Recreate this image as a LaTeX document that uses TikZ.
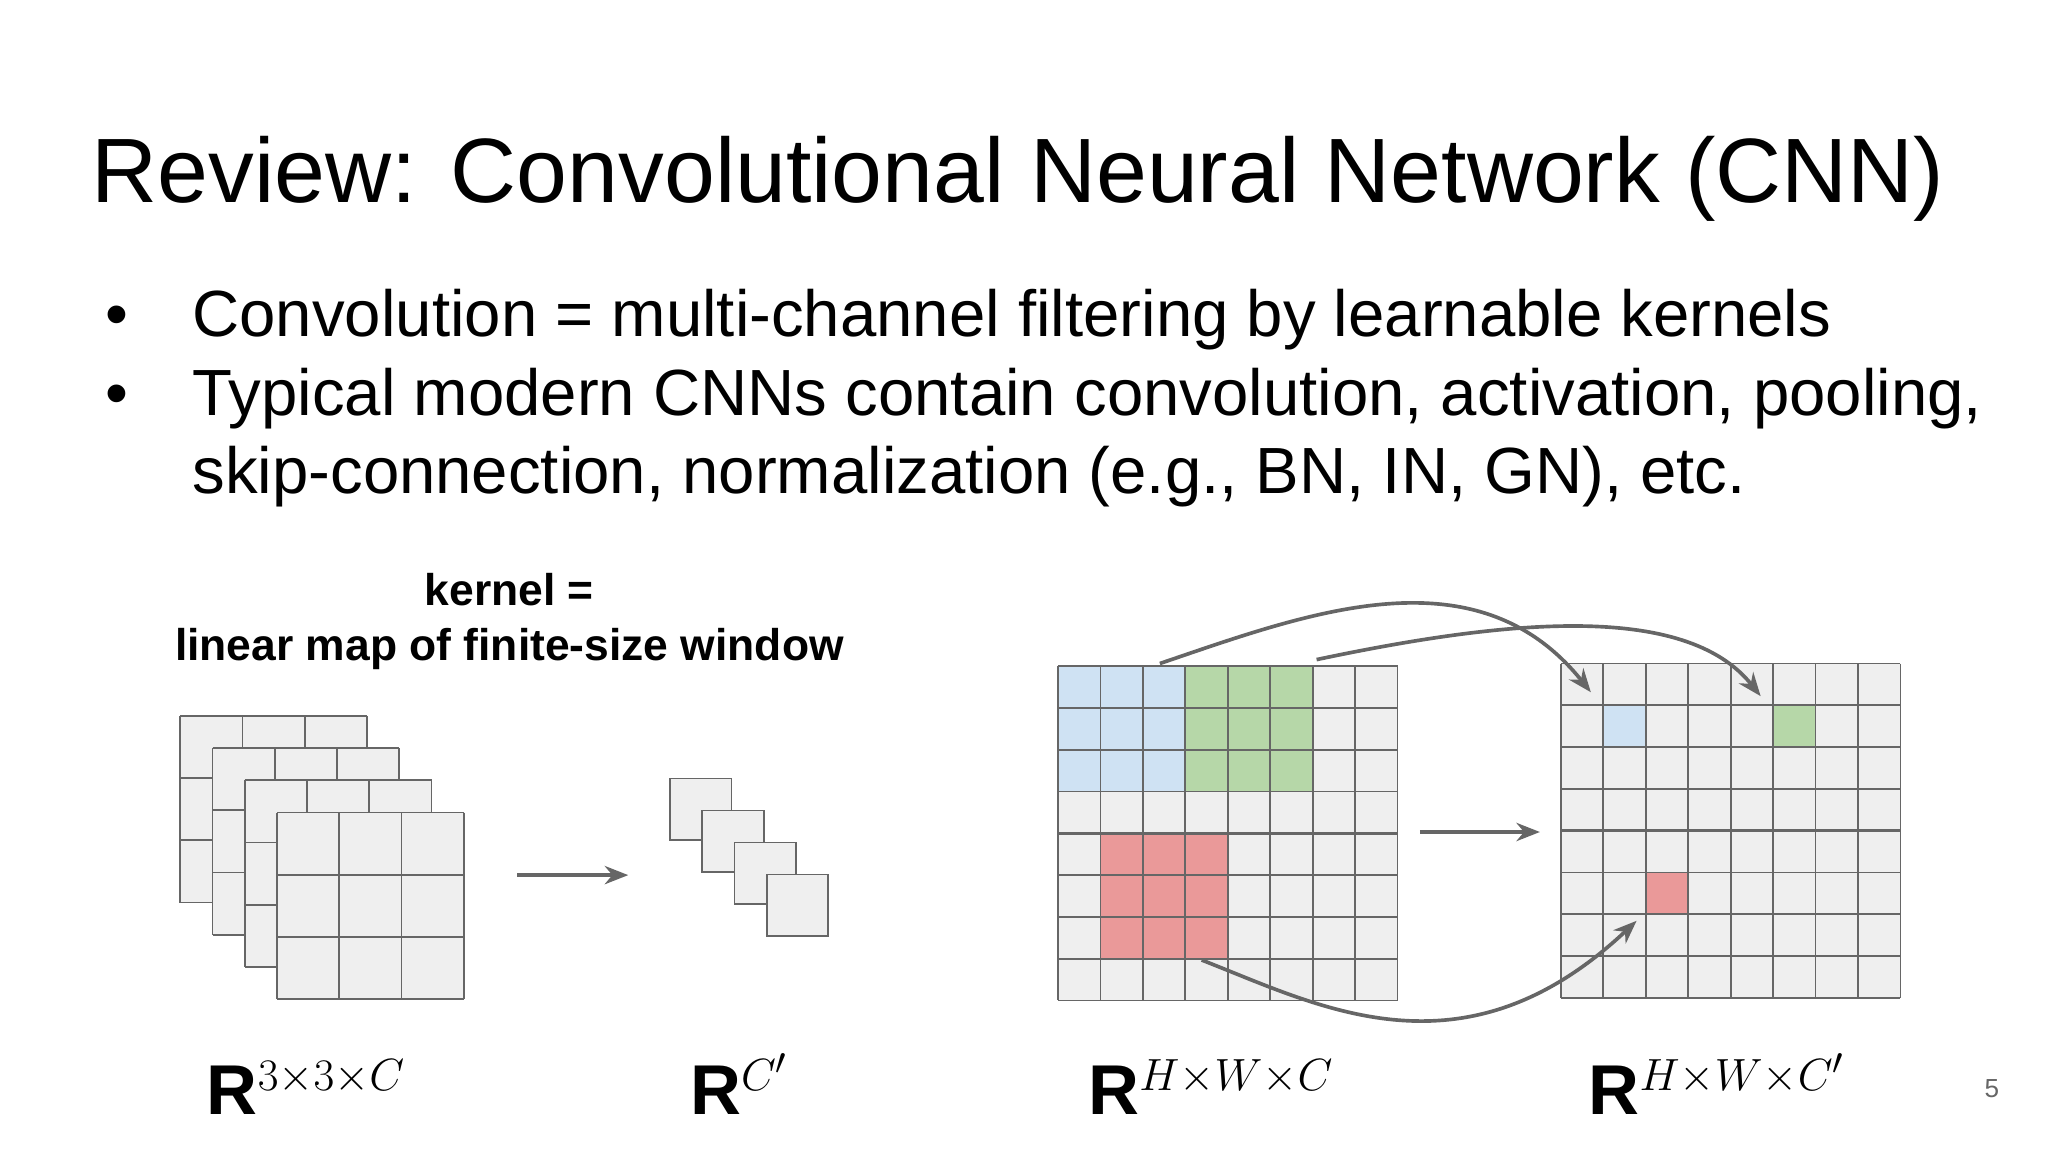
\documentclass[tikz,border=0pt]{standalone}
\usepackage{fontspec}
\setmainfont{Liberation Sans}
\usetikzlibrary{arrows.meta}
\definecolor{cg}{HTML}{EFEFEF}
\definecolor{cl}{HTML}{666666}
\definecolor{cb}{HTML}{CFE2F3}
\definecolor{cgr}{HTML}{B6D7A8}
\definecolor{cr}{HTML}{EA9999}
\begin{document}
\begin{tikzpicture}[x=0.5pt,y=-0.5pt,
  gl/.style={draw=cl,line width=0.7pt},
  arr/.style={draw=cl,line width=1.4pt,-{Stealth[length=9pt,width=7pt]}},
  lab/.style={font=\fontsize{27}{30}\selectfont,anchor=base west,inner sep=0}]
\useasboundingbox (0,0) rectangle (1568,882);
\node[anchor=base west,inner sep=0,font=\fontsize{35}{40}\selectfont] (title) at (70,155) {Review: Convolutional Neural Network (CNN)};
\node[anchor=base west,inner sep=0,font=\fontsize{25}{30}\selectfont] (b1d) at (80,258) {\textbullet};
\node[anchor=base west,inner sep=0,font=\fontsize{25}{30}\selectfont] (b1) at (147,258) {Convolution = multi-channel filtering by learnable kernels};
\node[anchor=base west,inner sep=0,font=\fontsize{25}{30}\selectfont] (b2d) at (80,318) {\textbullet};
\node[anchor=base west,inner sep=0,font=\fontsize{25}{30}\selectfont] (b2) at (147,318) {Typical modern CNNs contain convolution, activation, pooling,};
\node[anchor=base west,inner sep=0,font=\fontsize{25}{30}\selectfont] (b3) at (147,378) {skip-connection, normalization (e.g., BN, IN, GN), etc.};
\node[align=center,inner sep=0,font=\bfseries\fontsize{17}{21}\selectfont] (kt) at (390,476) {kernel =\\linear map of finite-size window};
% kernel stack
\foreach \i in {0,1,2,3}{
  \pgfmathsetmacro\ox{138+24.7*\i}\pgfmathsetmacro\oy{548+24.7*\i}
  \fill[cg] (\ox,\oy) rectangle ++(143,143);
  \foreach \k in {0,1,2,3}{
    \draw[gl] (\ox+47.67*\k,\oy) -- ++(0,143);
    \draw[gl] (\ox,\oy+47.67*\k) -- ++(143,0);}
}
\coordinate (a1s) at (396,670); \coordinate (a1e) at (481,670);
\draw[arr] (a1s) -- (a1e);
\foreach \i in {0,1,2,3}{
  \draw[gl,fill=cg] (513+24.7*\i,596+24.5*\i) rectangle ++(47,47);}
% big grids
\newcommand\biggrid[2]{%
  \fill[cg] (#1,#2) rectangle ++(260,256);
}
\biggrid{810}{510}
\fill[cb] (810,510) rectangle ++(97.5,96);
\fill[cgr] (907.5,510) rectangle ++(97.5,96);
\fill[cr] (842.5,638) rectangle ++(97.5,96);
\foreach \k in {0,...,8}{
  \draw[gl] (810+32.5*\k,510) -- ++(0,256);
  \draw[gl] (810,510+32*\k) -- ++(260,0);}
\draw[cl,line width=1.3pt] (810,638) -- ++(260,0);
\biggrid{1195}{508}
\fill[cb] (1227.5,540) rectangle ++(32.5,32);
\fill[cgr] (1357.5,540) rectangle ++(32.5,32);
\fill[cr] (1260,668) rectangle ++(32.5,32);
\foreach \k in {0,...,8}{
  \draw[gl] (1195+32.5*\k,508) -- ++(0,256);
  \draw[gl] (1195,508+32*\k) -- ++(260,0);}
\draw[cl,line width=1.3pt] (1195,636) -- ++(260,0);
\coordinate (a2s) at (1087,637); \coordinate (a2e) at (1179,637);
\draw[arr] (a2s) -- (a2e);
\coordinate (c1s) at (888,508); \coordinate (c1e) at (1218,530);
\coordinate (c2s) at (1008,505); \coordinate (c2e) at (1348,533);
\coordinate (c3s) at (920,735); \coordinate (c3e) at (1253,705);
\draw[arr] (c1s) .. controls (1000,470) and (1130,420) .. (c1e);
\draw[arr] (c2s) .. controls (1150,475) and (1290,460) .. (c2e);
\draw[arr] (c3s) .. controls (1010,770) and (1120,830) .. (c3e);
% labels
\node[lab] (l1) at (158,853) {$\mathbf{R}^{3\times3\times C}$};
\node[lab] (l2) at (528,853) {$\mathbf{R}^{C'}$};
\node[lab] (l3) at (833,853) {$\mathbf{R}^{H\times W\times C}$};
\node[lab] (l4) at (1216,853) {$\mathbf{R}^{H\times W\times C'}$};
\node[anchor=base west,inner sep=0,text=cl,font=\fontsize{10}{12}\selectfont] (pn) at (1519,840) {5};
\end{tikzpicture}
\end{document}
